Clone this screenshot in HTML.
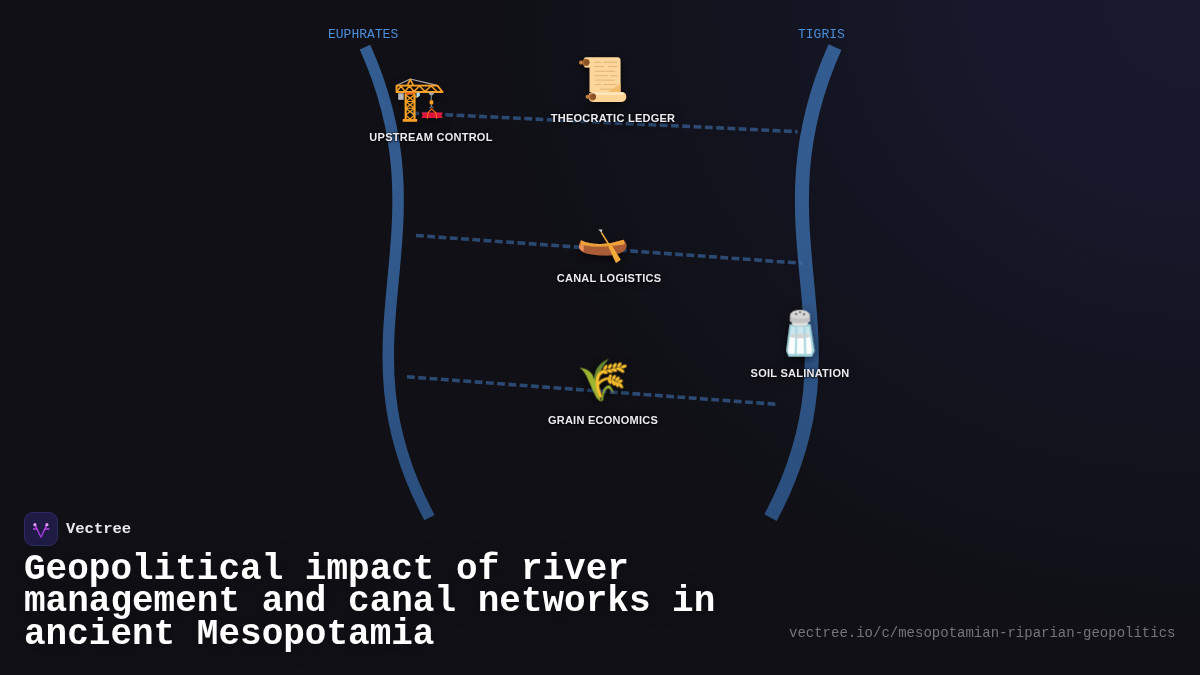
<!DOCTYPE html>
<html><head><meta charset="utf-8">
<style>
*{margin:0;padding:0;box-sizing:border-box}
html,body{width:1200px;height:675px;overflow:hidden}
body{position:relative;background:#101016;font-family:"Liberation Sans",sans-serif}
#title,#brand,#url,.rv,.lbl{will-change:transform}
#bg{position:absolute;left:0;top:0;width:1200px;height:675px;
 background:radial-gradient(ellipse 720px 640px at 100% 0%, rgb(24,25,45) 0%, rgb(23,24,43) 30%, rgba(20,21,35,0.7) 62%, rgba(17,17,23,0) 100%)}
svg.d{position:absolute;left:0;top:0}
.lbl{position:absolute;white-space:nowrap;font-weight:bold;font-size:11px;color:#ececef;letter-spacing:0.26px;
 text-shadow:0 0 3px rgba(8,8,12,0.9),0 1px 2px rgba(0,0,0,0.8),0 0 10px rgba(0,0,0,0.35);line-height:12px;transform:translateX(-50%)}
.rv{position:absolute;white-space:nowrap;font-family:"Liberation Mono",monospace;font-size:13px;color:#4a8fdc;line-height:15px}
#logo{position:absolute;left:24px;top:512px;width:34px;height:34px;border-radius:9px;background:#1e1c44;border:1px solid #2e2a66}
#brand{position:absolute;left:66px;top:520.5px;font-family:"Liberation Mono",monospace;font-weight:bold;font-size:15.5px;color:#e8e8ec;line-height:17px}
#title{position:absolute;left:24px;top:554px;font-family:"Liberation Mono",monospace;font-weight:bold;font-size:36px;line-height:32.4px;color:#ffffff;width:760px;text-shadow:0 2px 18px rgba(0,0,0,0.45)}
#url{position:absolute;right:24.5px;top:625px;font-family:"Liberation Mono",monospace;font-size:14px;color:#747479;line-height:16px}
</style></head>
<body>
<div id="bg"></div>
<svg class="d" width="1200" height="675" viewBox="0 0 1200 675">
 <defs>
  <filter id="ds" x="-30%" y="-30%" width="160%" height="160%" filterUnits="objectBoundingBox"><feDropShadow dx="0" dy="3" stdDeviation="5" flood-color="#000" flood-opacity="0.6"/></filter>
  <linearGradient id="rg" x1="0" y1="0" x2="0" y2="1">
   <stop offset="0" stop-color="#335c90"/><stop offset="0.4" stop-color="#325a8d"/><stop offset="1" stop-color="#2a4e7d"/>
  </linearGradient>
 </defs>
 <path d="M365 47.2 C450.5 237.3 331.5 335.5 429.5 517.6" fill="none" stroke="url(#rg)" stroke-width="11.5"/>
 <path d="M835 47.2 C749.5 237.3 868.5 335.5 770.5 517.6" fill="none" stroke="url(#rg)" stroke-width="14"/>
 <g stroke="#3e70ae" stroke-opacity="0.6" stroke-width="3.6" stroke-dasharray="7.8 3.5" fill="none">
  <line x1="411.4" y1="113.1" x2="797.6" y2="131.7"/>
  <line x1="416" y1="235.5" x2="802.5" y2="263.3"/>
  <line x1="407" y1="376.8" x2="779" y2="404.5"/>
 </g>

 <g id="icons" filter="url(#ds)">
  <!-- crane -->
  <g>
   <path d="M410.3 79 L396.6 85.4 M410.3 79 L437 85.4" stroke="#a8a8a8" stroke-width="1.1" fill="none"/>
   <rect x="398.2" y="93.3" width="5.4" height="6.5" fill="#b8b8b8"/>
   <path d="M407.2 85.6 L410.3 79.3 L413.4 85.6" stroke="#f7a126" stroke-width="1.5" fill="none" stroke-linejoin="round"/>
   <path d="M396.6 85.6 L437.4 85.6 L442.6 92 L396.6 92 Z" fill="none" stroke="#f7a126" stroke-width="1.9" stroke-linejoin="round"/>
   <path d="M396 92.3 L396 85.2 L443.2 92.4" fill="none"/>
   <path d="M397 91.5 L401 86 L405 91.5 L409.5 86 L414 91.5 L419.5 86 L425 91.5 L431 86 L437 91.5" fill="none" stroke="#f7a126" stroke-width="1.3"/>
   <rect x="404.8" y="92.6" width="10.6" height="2.1" fill="#e0661e"/>
   <path d="M405.7 94 L405.7 119.3 M414.5 94 L414.5 119.3" stroke="#f7a126" stroke-width="2"/>
   <path d="M405.6 94.7 L414.6 101.5 L405.6 108.3 L414.6 115.1 L410 119 M414.6 94.7 L405.6 101.5 L414.6 108.3 L405.6 115.1 L410 119 M405.6 101.5 L414.6 101.5 M405.6 108.3 L414.6 108.3" stroke="#f7a126" stroke-width="1.1" fill="none"/>
   <rect x="402.8" y="118.9" width="14.3" height="2.9" rx="0.4" fill="#f7a126"/>
   <path d="M416.6 92.8 L419.8 92.8 L419.8 95.3 Q419 97.3 416.6 97.4 Z" fill="#a9dbea"/>
   <path d="M415.2 95.5 L418 97.6 L415.2 97.6 Z" fill="#f7a126"/>
   <path d="M428.8 92.6 L434 92.6 Q434 95.3 431.4 95.3 Q428.8 95.3 428.8 92.6 Z" fill="#a8a8a8"/>
   <path d="M431.3 95 L431.3 100.4" stroke="#a8a8a8" stroke-width="0.8"/>
   <rect x="429.7" y="100.2" width="3.5" height="4.3" rx="1.2" fill="#f7a126"/>
   <path d="M431.4 104.4 L431.4 106 Q431.4 108.4 429.6 107.6 M431.6 106.5 L433.4 107.8" stroke="#a8a8a8" stroke-width="0.8" fill="none"/>
   <path d="M421.4 112.5 L442.8 112.5 L441.4 115.2 L442.8 117.9 L421.4 117.9 L422.8 115.2 Z" fill="#e3173a"/>
   <path d="M422.5 115.2 L441.5 115.2" stroke="#b70f2b" stroke-width="0.5"/>
   <path d="M427.4 118.6 L427.8 113 L431.6 108.9 L435.9 113 L436.6 118.6" stroke="#fb6a19" stroke-width="1.1" fill="none" stroke-linejoin="round"/>
  </g>
  <!-- scroll -->
  <g>
   <path d="M586 57.2 L617.3 57.2 Q620.5 57.2 620.5 60.4 L620.5 92 L589.6 92 L589.6 67.6 L586 67.6 Q583.6 67.6 583.6 62.4 Q583.6 57.2 586 57.2 Z" fill="#fdd69b"/>
   <path d="M608 92 L620.5 83.5 L620.5 92 Z" fill="#f2bd6a"/>
   <g stroke="#cf9d5e" stroke-width="0.6" stroke-linecap="round">
    <path d="M594.8 62.2 L600.6 62.2 M603.8 62.2 L616.8 62.2"/>
    <path d="M595.2 66.5 L603.6 66.5 M608 66.5 L616.8 66.5"/>
    <path d="M595.2 71.3 L614.7 71.3"/>
    <path d="M595.2 75.7 L607.6 75.7 M611 75.7 L617 75.7"/>
    <path d="M595.2 80.1 L614.7 80.1"/>
    <path d="M594.8 84.6 L600.6 84.6 M603.8 84.6 L616.8 84.6"/>
    <path d="M600.2 89.2 L612.5 89.2"/>
   </g>
   <rect x="588.5" y="91.9" width="37.7" height="10" rx="4.6" fill="#fcd496"/>
   <rect x="591" y="92.6" width="33" height="2.2" rx="1.1" fill="#fee8c4"/>
   <circle cx="585.9" cy="62.4" r="3.6" fill="#a86a31"/>
   <circle cx="586.8" cy="62.3" r="2.6" fill="#8a5326"/>
   <circle cx="581" cy="62.4" r="2" fill="#c0803f"/>
   <circle cx="592.5" cy="96.8" r="3.6" fill="#a86a31"/>
   <circle cx="593.4" cy="96.7" r="2.6" fill="#8a5326"/>
   <circle cx="587.6" cy="96.8" r="2" fill="#c0803f"/>
  </g>
  <!-- canoe -->
  <g>
   <path d="M581 240.3 Q590 244.6 601.7 244 Q613 243.4 623.6 239.8 Q627.6 244 626.2 248 Q624 253.5 611 255.2 Q595 256.2 585 253 Q578.4 250.5 579 246 Q579.6 242 581 240.3 Z" fill="#a95b35"/>
   <path d="M581 240.3 Q590 244.6 601.7 244 Q613 243.4 623.6 239.8 Q624.8 242.5 624.4 244.6 Q613 246.2 601.7 246.6 Q588 246.8 580.6 244.8 Q580.4 242 581 240.3 Z" fill="#eda13a"/>
   <path d="M585 245.4 L598 246.6 M604 246.6 L615 246" stroke="#c98a2c" stroke-width="0.7"/>
   <path d="M579.4 244.6 Q581.6 245 583.8 245.6 L583.6 251.6 Q580 250.4 579.2 247.8 Z" fill="#ee9158"/>
   <path d="M598.2 229.6 L602.4 229.4 L601.7 232.8 Z" fill="#c8c8c8"/>
   <path d="M601.3 232.3 L610.8 247.6" stroke="#f4ab3b" stroke-width="1.5"/>
   <path d="M608.4 246.8 L611.9 245.6 L620.7 259.8 L616 262.9 Z" fill="#f4ab3b"/>
  </g>
  <!-- wheat -->
  <g transform="translate(575 354) scale(0.07704)">
   <path d="M440 60 Q335 105 280 195 Q240 285 243 420 L295 405 Q295 300 325 232 Q365 140 440 60 Z" fill="#6d8d35"/>
   <path d="M55 180 Q165 185 220 262 Q265 340 288 450 Q306 540 340 615 Q295 600 265 540 Q228 460 192 380 Q158 290 120 235 Q95 200 55 180 Z" fill="#9db532"/>
   <path d="M330 545 Q295 470 288 390 Q285 300 320 255 Q340 235 365 228" stroke="#fbc02d" stroke-width="40" fill="none" stroke-linecap="round"/>
   <path d="M298 395 Q340 335 420 318" stroke="#fbc02d" stroke-width="32" fill="none" stroke-linecap="round"/>
   <g fill="#fbc02d">
    <ellipse cx="0" cy="0" rx="36" ry="20" transform="translate(395 175) rotate(-55)"/>
    <ellipse cx="0" cy="0" rx="36" ry="20" transform="translate(455 160) rotate(-55)"/>
    <ellipse cx="0" cy="0" rx="36" ry="20" transform="translate(515 148) rotate(-55)"/>
    <ellipse cx="0" cy="0" rx="36" ry="20" transform="translate(575 140) rotate(-50)"/>
    <ellipse cx="0" cy="0" rx="38" ry="20" transform="translate(635 162) rotate(-15)"/>
    <ellipse cx="0" cy="0" rx="36" ry="20" transform="translate(390 235) rotate(15)"/>
    <ellipse cx="0" cy="0" rx="36" ry="20" transform="translate(450 222) rotate(20)"/>
    <ellipse cx="0" cy="0" rx="36" ry="20" transform="translate(510 208) rotate(22)"/>
    <ellipse cx="0" cy="0" rx="36" ry="20" transform="translate(570 195) rotate(25)"/>
    <ellipse cx="0" cy="0" rx="34" ry="19" transform="translate(610 215) rotate(40)"/>
    <path d="M360 228 Q500 190 640 165" stroke="#fbc02d" stroke-width="14" fill="none"/>
    <ellipse cx="0" cy="0" rx="36" ry="20" transform="translate(455 300) rotate(-70)"/>
    <ellipse cx="0" cy="0" rx="36" ry="20" transform="translate(505 305) rotate(-60)"/>
    <ellipse cx="0" cy="0" rx="36" ry="20" transform="translate(550 325) rotate(-40)"/>
    <ellipse cx="0" cy="0" rx="36" ry="20" transform="translate(585 355) rotate(-20)"/>
    <ellipse cx="0" cy="0" rx="36" ry="20" transform="translate(450 355) rotate(60)"/>
    <ellipse cx="0" cy="0" rx="36" ry="20" transform="translate(500 375) rotate(62)"/>
    <ellipse cx="0" cy="0" rx="36" ry="20" transform="translate(545 395) rotate(60)"/>
    <ellipse cx="0" cy="0" rx="38" ry="20" transform="translate(595 410) rotate(55)"/>
    <path d="M420 318 Q520 350 600 420" stroke="#fbc02d" stroke-width="14" fill="none"/>
   </g>
   <path d="M340 610 Q345 520 370 460 Q400 410 440 405 Q480 420 500 515 Q470 460 440 445 Q405 440 385 480 Q365 540 360 605 Z" fill="#9db532"/>
  </g>
  <!-- salt -->
  <g transform="translate(780 306) scale(0.08)">
   <path d="M120 228 L380 228 L432 560 L398 632 L108 632 L78 560 Z" fill="#a2d3db"/>
   <path d="M140 262 L198 262 L186 600 L110 600 L100 550 Z" fill="#cbe7ed"/>
   <path d="M214 262 L298 262 L306 600 L206 600 Z" fill="#cbe7ed"/>
   <path d="M316 262 L364 262 L402 550 L392 600 L326 600 Z" fill="#cbe7ed"/>
   <path d="M126 380 L196 380 L187 595 L112 595 L103 550 Z" fill="#fbfdfd"/>
   <path d="M212 380 L300 380 L305 595 L207 595 Z" fill="#fbfdfd"/>
   <path d="M318 380 L376 380 L398 550 L390 595 L326 595 Z" fill="#fbfdfd"/>
   <ellipse cx="250" cy="375" rx="122" ry="30" fill="#d4d4d4"/>
   <path d="M198 262 L188 600 M212 262 L206 600 M299 262 L305 600 M315 262 L326 600" stroke="#a2d3db" stroke-width="6"/>
   <path d="M150 190 L350 190 L350 222 Q350 250 250 250 Q150 250 150 222 Z" fill="#dcdcdc"/>
   <path d="M125 190 L125 130 Q125 48 250 48 Q375 48 375 130 L375 190 Q375 212 250 212 Q125 212 125 190 Z" fill="#c2c2c2"/>
   <path d="M135 130 Q135 55 250 55 Q365 55 365 130 Q365 160 250 160 Q135 160 135 130 Z" fill="#d6d6d6"/>
   <circle cx="202" cy="100" r="14" fill="#6a6a6a"/>
   <circle cx="250" cy="76" r="13" fill="#6a6a6a"/>
   <circle cx="300" cy="104" r="14" fill="#6a6a6a"/>
  </g>
 </g>
</svg>
<div class="rv" style="left:327.7px;top:27px">EUPHRATES</div>
<div class="rv" style="left:798px;top:27px">TIGRIS</div>

<div class="lbl" style="left:430.6px;top:131px">UPSTREAM CONTROL</div>
<div class="lbl" style="left:612.5px;top:112px">THEOCRATIC LEDGER</div>
<div class="lbl" style="left:609.2px;top:272px">CANAL LOGISTICS</div>
<div class="lbl" style="left:799.5px;top:367px">SOIL SALINATION</div>
<div class="lbl" style="left:602.5px;top:414px">GRAIN ECONOMICS</div>

<div id="logo"><svg width="34" height="34" viewBox="24 512 34 34" style="position:absolute;left:-1px;top:-1px">
 <defs><linearGradient id="vg" x1="0" y1="0" x2="0" y2="1"><stop offset="0" stop-color="#c94ef0"/><stop offset="1" stop-color="#8e2fd6"/></linearGradient></defs>
 <path d="M34.9 524.7 L40.9 537.3 L46.9 524.7" stroke="url(#vg)" stroke-width="1.5" fill="none" stroke-linejoin="round"/>
 <path d="M33 528.9 L37 528.9 M45 528.9 L49.4 528.9" stroke="#b843e8" stroke-width="1.5"/>
 <circle cx="34.9" cy="524.7" r="1.6" fill="#e29af2"/>
 <circle cx="46.9" cy="524.7" r="1.6" fill="#e29af2"/>
</svg></div>
<div id="brand">Vectree</div>
<div id="title">Geopolitical impact of river management and canal networks in ancient Mesopotamia</div>
<div id="url">vectree.io/c/mesopotamian-riparian-geopolitics</div>
</body></html>
